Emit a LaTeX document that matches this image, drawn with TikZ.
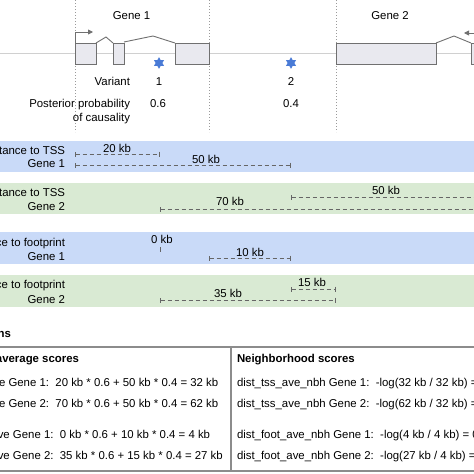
\documentclass[tikz,border=0pt]{standalone}
\usepackage{fontspec}
\setmainfont{Liberation Sans}
\usetikzlibrary{arrows.meta}
\definecolor{bandblue}{HTML}{C9DAF8}
\definecolor{bandgreen}{HTML}{D9EAD3}
\definecolor{exonfill}{HTML}{E9E9EF}
\definecolor{exonline}{HTML}{707070}
\definecolor{starblue}{HTML}{4A7BD6}
\definecolor{measure}{HTML}{666666}
\definecolor{rulegray}{HTML}{8C8C8C}
\definecolor{guidegray}{HTML}{9A9A9A}
\definecolor{axisgray}{HTML}{D0D0D0}
\begin{document}
\begin{tikzpicture}[x=1pt,y=-1pt,
  txt/.style={inner sep=0pt,outer sep=0pt,font=\fontsize{11.4}{13.7}\selectfont},
  bold/.style={inner sep=0pt,outer sep=0pt,font=\bfseries\fontsize{11.4}{13.7}\selectfont},
  rlbl/.style={txt,anchor=base east},
  llbl/.style={txt,anchor=base west},
  clbl/.style={txt,anchor=base},
  exonbox/.style={draw=exonline,fill=exonfill,line width=0.9pt},
  intronline/.style={draw=exonline,line width=0.9pt},
  guide/.style={draw=guidegray,line width=0.8pt,dash pattern=on 1pt off 2pt},
  meas/.style={draw=measure,line width=0.8pt,dash pattern=on 4pt off 3pt},
  tickboth/.style={{Bar[width=5pt]}-{Bar[width=5pt]}},
  tickstart/.style={{Bar[width=5pt]}-},
  tssarrow/.style={draw=exonline,line width=0.9pt,-{Triangle[length=5pt,width=5pt]}},
  tablerule/.style={draw=rulegray,line width=1.4pt}
]
\useasboundingbox (0,0) rectangle (474,474);
\clip (0,0) rectangle (474,474);

% bands
\fill[bandblue] (0,141) rectangle (474,172);
\fill[bandgreen] (0,183) rectangle (474,214);
\fill[bandblue] (0,232) rectangle (474,264);
\fill[bandgreen] (0,275) rectangle (474,307);

% guides
\draw[guide] (75,0) -- (75,132);
\draw[guide] (209,0) -- (209,132);
\draw[guide] (336,0) -- (336,132);

% genomic axis
\draw[axisgray,line width=0.9pt] (0,53) -- (474,53);

% gene 1
\draw[exonbox] (75,43) rectangle (96,64);
\draw[exonbox] (113,43) rectangle (124,64);
\draw[exonbox] (175,43) rectangle (209,64);
\draw[intronline] (96,43) -- (106,37) -- (113,43);
\draw[intronline] (124,42) -- (153,36) -- (175,43);
\coordinate (tss1a) at (75,43);
\coordinate (tss1b) at (75,32);
\coordinate (tss1c) at (93,32);
\draw[tssarrow] (tss1a) -- (tss1b) -- (tss1c);

% gene 2
\draw[exonbox] (336,43) rectangle (436,64);
\draw[intronline] (436,43) -- (454,36) -- (471,43);
\draw[exonbox] (471,43) rectangle (500,64);
\coordinate (tss2a) at (490,43);
\coordinate (tss2b) at (490,33);
\coordinate (tss2c) at (464,33);
\draw[tssarrow] (tss2a) -- (tss2b) -- (tss2c);

\node[clbl] (g1) at (131.5,19) {Gene 1};
\node[clbl] (g2) at (390,19) {Gene 2};

% variants
\coordinate (v1) at (159,63);
\coordinate (v2) at (291,63);
\foreach \v in {v1,v2}{
  \fill[starblue,shift={(\v)}] (90:5.8) -- (210:5.8) -- (330:5.8) -- cycle;
  \fill[starblue,shift={(\v)}] (270:5.8) -- (30:5.8) -- (150:5.8) -- cycle;
}
\node[rlbl] (varlbl) at (130,85) {Variant};
\node[rlbl] (pp1) at (130,107) {Posterior probability};
\node[rlbl] (pp2) at (130,121) {of causality};
\node[clbl] (vn1) at (159,85) {1};
\node[clbl] (vn2) at (291,85) {2};
\node[clbl] (vp1) at (158,107) {0.6};
\node[clbl] (vp2) at (291,107) {0.4};

% band labels
\node[rlbl] (b1a) at (65,154) {Distance to TSS};
\node[rlbl] (b1b) at (65,167) {Gene 1};
\node[rlbl] (b2a) at (65,196) {Distance to TSS};
\node[rlbl] (b2b) at (65,210) {Gene 2};
\node[rlbl] (b3a) at (65,246) {Distance to footprint};
\node[rlbl] (b3b) at (65,260) {Gene 1};
\node[rlbl] (b4a) at (65,288) {Distance to footprint};
\node[rlbl] (b4b) at (65,303) {Gene 2};

% measurement lines
\coordinate (m1a) at (75,154);  \coordinate (m1b) at (160,154);
\coordinate (m2a) at (75,165);  \coordinate (m2b) at (291,165);
\coordinate (m3a) at (291,197); \coordinate (m3b) at (495,197);
\coordinate (m4a) at (160,209); \coordinate (m4b) at (495,209);
\coordinate (m0a) at (160,247); \coordinate (m0b) at (160,252);
\coordinate (m5a) at (209,258); \coordinate (m5b) at (291,258);
\coordinate (m6a) at (291,289); \coordinate (m6b) at (336,289);
\coordinate (m7a) at (160,300); \coordinate (m7b) at (336,300);
\draw[meas,tickboth] (m1a) -- (m1b);
\draw[meas,tickboth] (m2a) -- (m2b);
\draw[meas,tickstart] (m3a) -- (m3b);
\draw[meas,tickstart] (m4a) -- (m4b);
\draw[measure,line width=0.8pt] (m0a) -- (m0b);
\draw[meas,tickboth] (m5a) -- (m5b);
\draw[meas,tickboth] (m6a) -- (m6b);
\draw[meas,tickboth] (m7a) -- (m7b);
\node[clbl] (k1) at (117,152) {20 kb};
\node[clbl] (k2) at (206,163) {50 kb};
\node[clbl] (k3) at (386,194) {50 kb};
\node[clbl] (k4) at (230,205) {70 kb};
\node[clbl] (k0) at (162,243) {0 kb};
\node[clbl] (k5) at (250,256) {10 kb};
\node[clbl] (k6) at (312,286) {15 kb};
\node[clbl] (k7) at (228,297) {35 kb};

% calculations
\node[bold,anchor=base east] (calc) at (11,337) {Calculations};
\draw[tablerule] (0,347) -- (474,347);
\draw[tablerule] (0,471) -- (474,471);
\draw[tablerule] (231,347) -- (231,471);
\node[bold,anchor=base east] (lhead) at (79,362) {Weighted average scores};
\node[llbl] (l1) at (-58,386) {dist\_tss\_ave Gene 1:\ \ 20 kb * 0.6 + 50 kb * 0.4 = 32 kb};
\node[llbl] (l2) at (-58,407) {dist\_tss\_ave Gene 2:\ \ 70 kb * 0.6 + 50 kb * 0.4 = 62 kb};
\node[llbl] (l3) at (-58,438) {dist\_foot\_ave Gene 1:\ \ 0 kb * 0.6 + 10 kb * 0.4 = 4 kb};
\node[llbl] (l4) at (-58,459) {dist\_foot\_ave Gene 2:\ \ 35 kb * 0.6 + 15 kb * 0.4 = 27 kb};
\node[bold,anchor=base west] (rhead) at (237,362) {Neighborhood scores};
\node[llbl] (r1) at (237,386) {dist\_tss\_ave\_nbh Gene 1:\ \ -log(32 kb / 32 kb) = 0};
\node[llbl] (r2) at (237,407) {dist\_tss\_ave\_nbh Gene 2:\ \ -log(62 kb / 32 kb) = -0.29};
\node[llbl] (r3) at (237,438) {dist\_foot\_ave\_nbh Gene 1:\ \ -log(4 kb / 4 kb) = 0};
\node[llbl] (r4) at (237,459) {dist\_foot\_ave\_nbh Gene 2:\ \ -log(27 kb / 4 kb) = -0.83};
\end{tikzpicture}
\end{document}
